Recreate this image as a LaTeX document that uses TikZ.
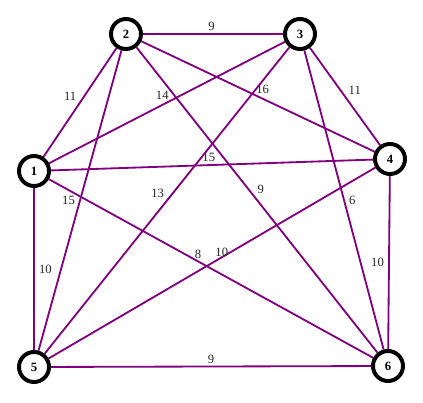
\documentclass[tikz,border=0pt]{standalone}
\usepackage{fontspec}
\setmainfont{Liberation Serif}
\usepackage{xcolor}
\usetikzlibrary{backgrounds}
\definecolor{EdgePurple}{HTML}{800080}
\tikzset{
  vertex/.style={circle,draw=black,fill=white,line width=2.8pt,minimum size=0.75cm,inner sep=0pt,font=\small\bfseries},
  link/.style={draw=EdgePurple,line width=1.3pt},
  weight/.style={font=\small,inner sep=1.5pt,text=black!85}
}
\begin{document}
\begin{tikzpicture}[x=0.025cm,y=-0.025cm]
\useasboundingbox (0,0) rectangle (423,403);
% vertices
\node[vertex] (v1) at (34,171) {1};
\node[vertex] (v2) at (126,34) {2};
\node[vertex] (v3) at (300,34) {3};
\node[vertex] (v4) at (390,159) {4};
\node[vertex] (v5) at (34,367) {5};
\node[vertex] (v6) at (388,366) {6};
% weighted edges
\begin{scope}[on background layer]
\draw[link] (v1) -- node[weight,pos=0.49,above left] {11} (v2);
\draw[link] (v2) -- node[weight,pos=0.49,above] {9} (v3);
\draw[link] (v1) -- node[weight,pos=0.48,above,inner sep=3pt] {14} (v3);
\draw[link] (v3) -- node[weight,pos=0.51,above right] {11} (v4);
\draw[link] (v2) -- node[weight,pos=0.52,above,inner sep=3pt] {16} (v4);
\draw[link] (v1) -- node[weight,pos=0.49,above] {15} (v4);
\draw[link] (v3) -- node[weight,pos=0.50,above left] {13} (v5);
\draw[link] (v2) -- node[weight,pos=0.50,left,inner sep=3pt] {15} (v5);
\draw[link] (v1) -- node[weight,pos=0.50,right,inner sep=3pt] {10} (v5);
\draw[link] (v2) -- node[weight,pos=0.49,above right] {9} (v6);
\draw[link] (v3) -- node[weight,pos=0.50,right,inner sep=3pt] {6} (v6);
\draw[link] (v1) -- node[weight,pos=0.46,above] {8} (v6);
\draw[link] (v5) -- node[weight,pos=0.53,above,inner sep=0pt] {10} (v4);
\draw[link] (v4) -- node[weight,pos=0.50,left,inner sep=3pt] {10} (v6);
\draw[link] (v5) -- node[weight,pos=0.50,above] {9} (v6);
\end{scope}
\end{tikzpicture}
\end{document}
